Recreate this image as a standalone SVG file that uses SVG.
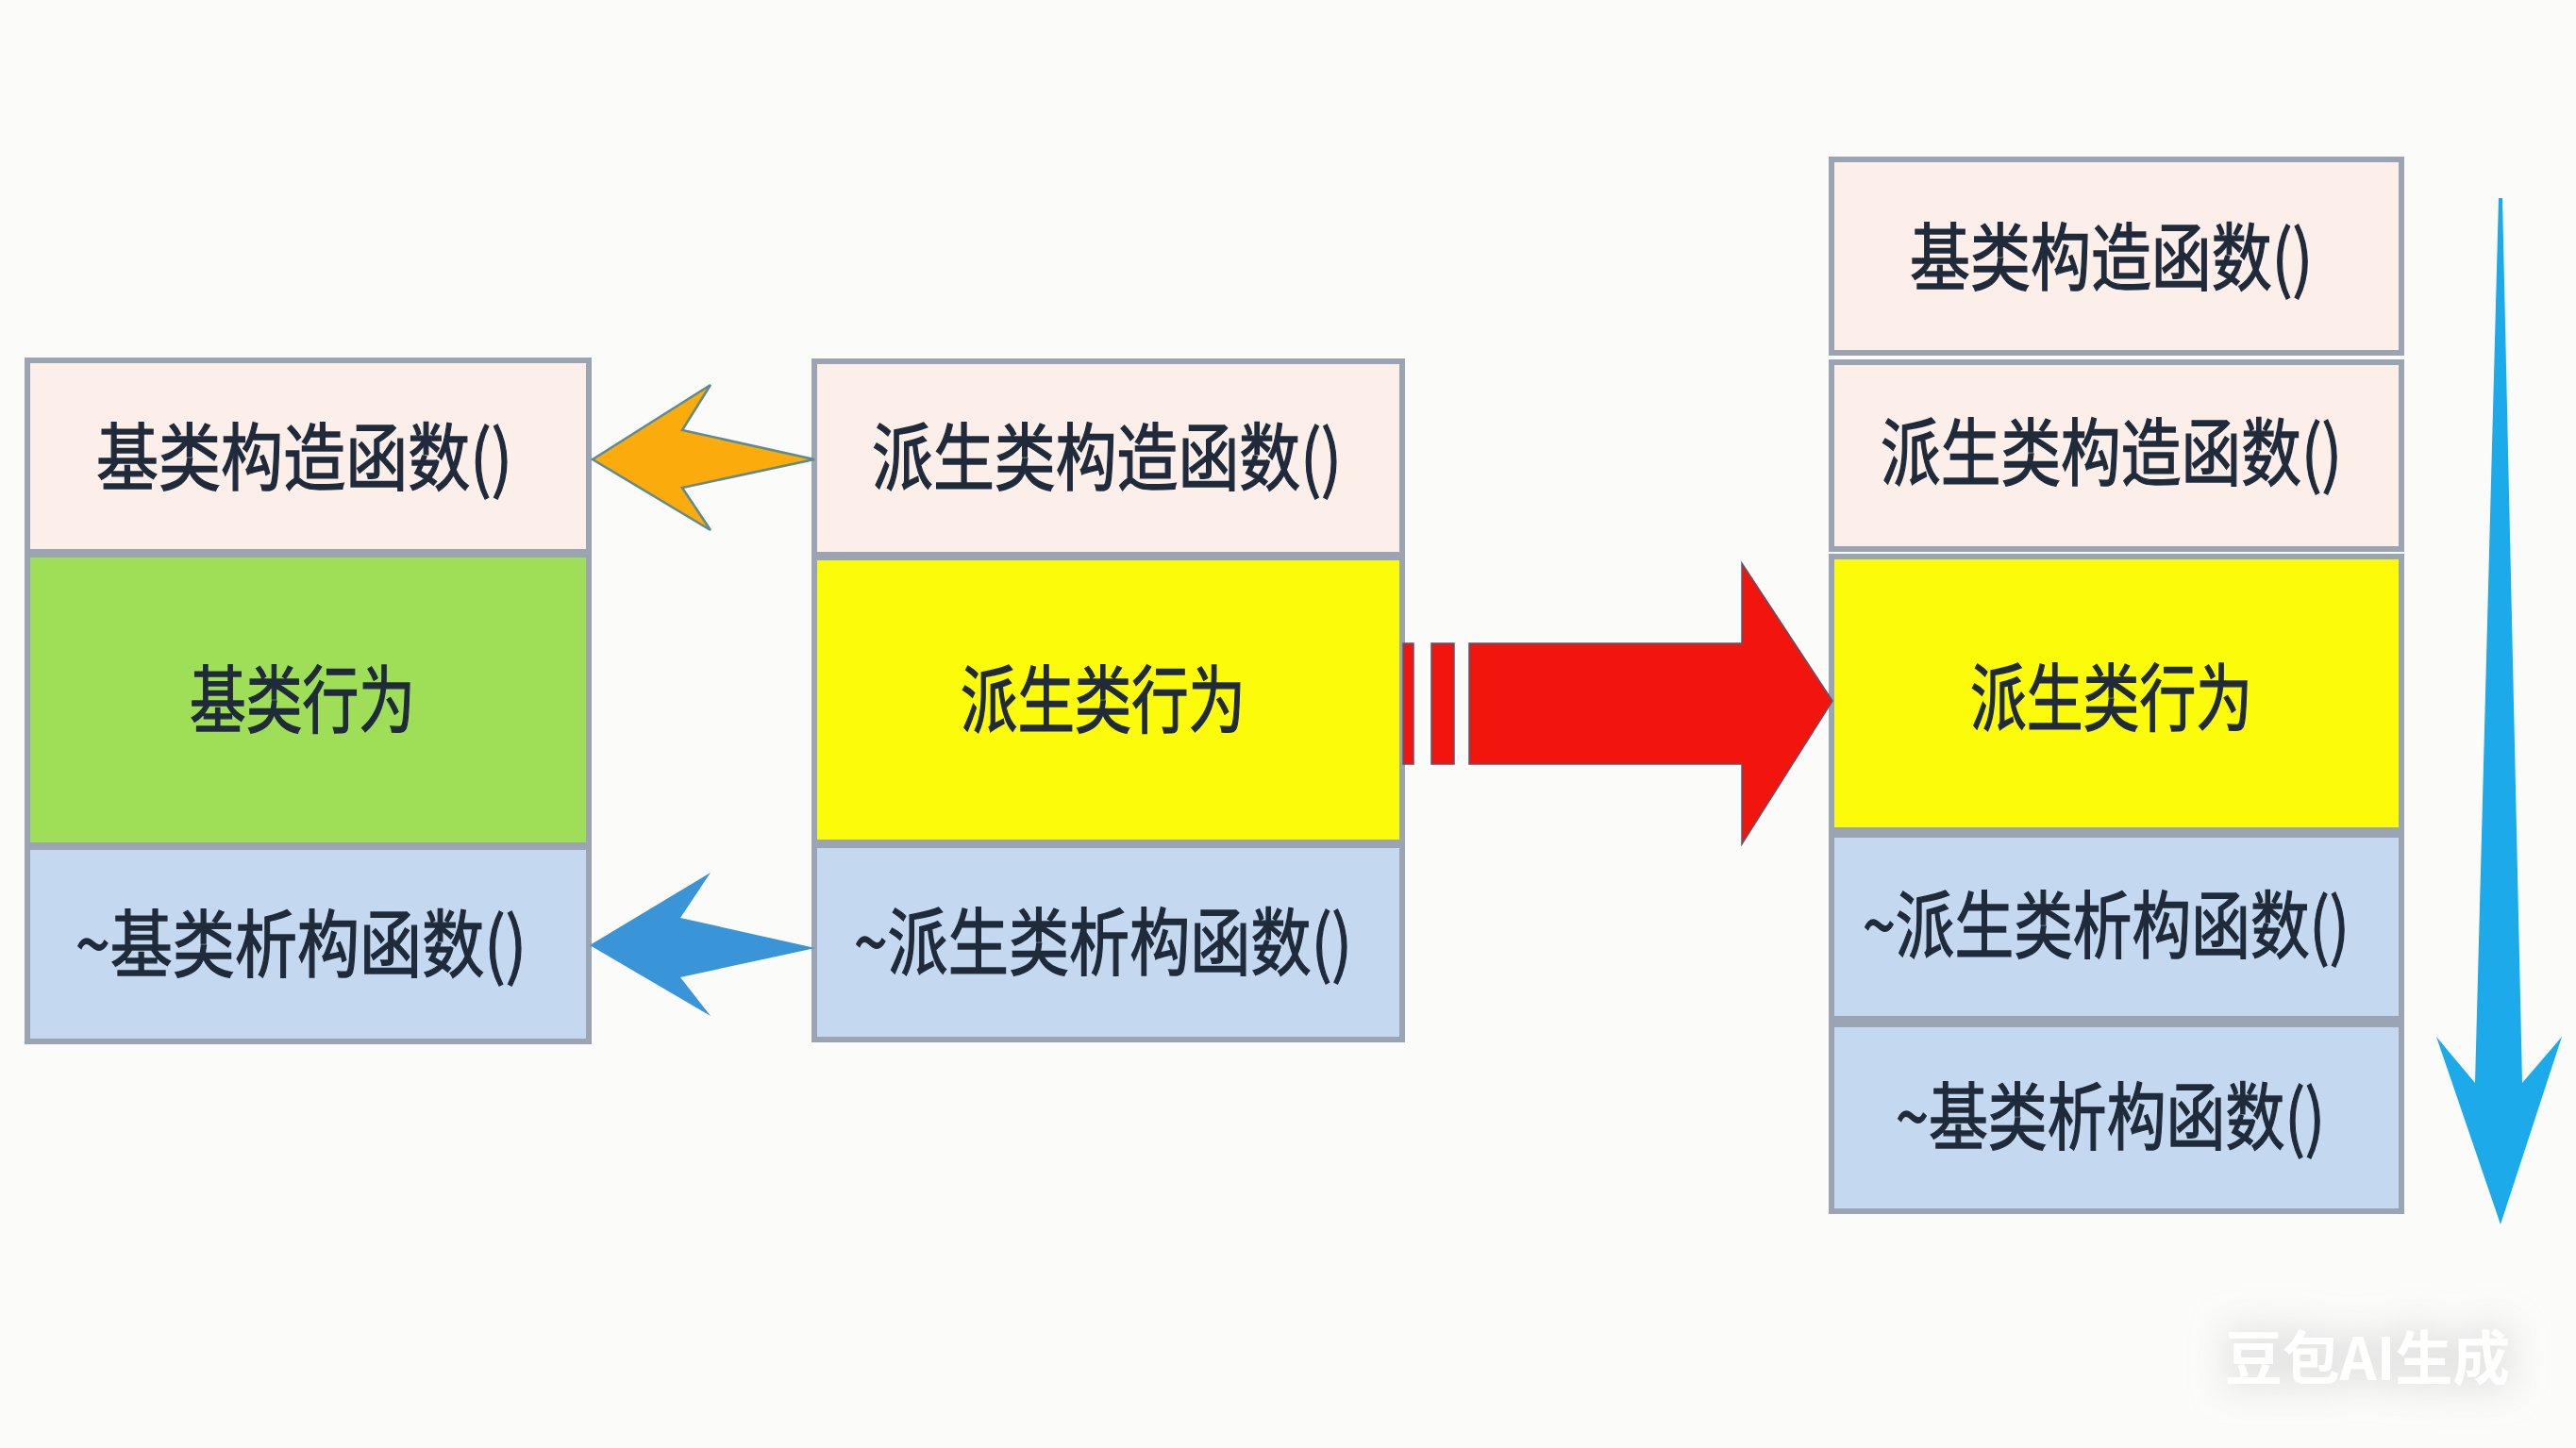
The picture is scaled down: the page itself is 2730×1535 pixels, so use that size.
<svg xmlns="http://www.w3.org/2000/svg" width="2730" height="1535" viewBox="0 0 2730 1535">
  <defs>
    <style>
      .box { stroke: #9ba4b3; stroke-width: 6; }
      .pink { fill: #fcefe9; }
      .green { fill: #9fdf58; }
      .yellow { fill: #fbfb0a; }
      .blue { fill: #c4d9ef; }
      .lbl { font-family: "Noto Sans CJK SC", "Noto Sans", "Liberation Sans", sans-serif; font-size: 78px; fill: #1f2a3a; stroke: #1f2a3a; stroke-width: 1.4; }
      .wm { font-family: "Noto Sans CJK SC", "Noto Sans", "Liberation Sans", sans-serif; font-size: 62px; font-weight: bold; }
    </style>
    <filter id="glow" x="-20%" y="-60%" width="140%" height="220%">
      <feMorphology in="SourceAlpha" operator="dilate" radius="6" result="d"/>
      <feGaussianBlur in="d" stdDeviation="18" result="b"/>
      <feColorMatrix in="b" type="matrix" values="0 0 0 0 0.5  0 0 0 0 0.5  0 0 0 0 0.5  0 0 0 0.35 0" result="s"/>
      <feMerge><feMergeNode in="s"/><feMergeNode in="SourceGraphic"/></feMerge>
    </filter>
  </defs>

  <rect x="0" y="0" width="2730" height="1535" fill="#fbfbf9"/>

  <!-- Left column: base class -->
  <g id="left-base-ctor">
    <rect class="box pink" x="29" y="382" width="595" height="203"/>
    <text class="lbl" x="102" y="514" textLength="441" lengthAdjust="spacingAndGlyphs">基类构造函数()</text>
  </g>
  <g id="left-base-behavior">
    <rect class="box green" x="29" y="588" width="595" height="308"/>
    <text class="lbl" x="201" y="771" textLength="239" lengthAdjust="spacingAndGlyphs">基类行为</text>
  </g>
  <g id="left-base-dtor">
    <rect class="box blue" x="29" y="898" width="595" height="206"/>
    <text class="lbl" x="80" y="1030" textLength="478" lengthAdjust="spacingAndGlyphs">~基类析构函数()</text>
  </g>

  <!-- Middle column: derived class -->
  <g id="mid-derived-ctor">
    <rect class="box pink" x="863" y="383" width="623" height="205"/>
    <text class="lbl" x="924" y="514" textLength="498" lengthAdjust="spacingAndGlyphs">派生类构造函数()</text>
  </g>
  <g id="mid-derived-behavior">
    <rect class="box yellow" x="863" y="591" width="623" height="302"/>
    <text class="lbl" x="1018" y="771" textLength="302" lengthAdjust="spacingAndGlyphs">派生类行为</text>
  </g>
  <g id="mid-derived-dtor">
    <rect class="box blue" x="863" y="896" width="623" height="206"/>
    <text class="lbl" x="905" y="1028" textLength="528" lengthAdjust="spacingAndGlyphs">~派生类析构函数()</text>
  </g>

  <!-- Right column: execution order -->
  <g id="right-base-ctor">
    <rect class="box pink" x="1941" y="169" width="604" height="205"/>
    <text class="lbl" x="2024" y="302" textLength="427" lengthAdjust="spacingAndGlyphs">基类构造函数()</text>
  </g>
  <g id="right-derived-ctor">
    <rect class="box pink" x="1941" y="384" width="604" height="198"/>
    <text class="lbl" x="1993" y="509" textLength="489" lengthAdjust="spacingAndGlyphs">派生类构造函数()</text>
  </g>
  <g id="right-derived-behavior">
    <rect class="box yellow" x="1941" y="590" width="604" height="290"/>
    <text class="lbl" x="2088" y="769" textLength="299" lengthAdjust="spacingAndGlyphs">派生类行为</text>
  </g>
  <g id="right-derived-dtor">
    <rect class="box blue" x="1941" y="885" width="604" height="195"/>
    <text class="lbl" x="1974" y="1010" textLength="516" lengthAdjust="spacingAndGlyphs">~派生类析构函数()</text>
  </g>
  <g id="right-base-dtor">
    <rect class="box blue" x="1941" y="1086" width="604" height="198"/>
    <text class="lbl" x="2009" y="1213" textLength="455" lengthAdjust="spacingAndGlyphs">~基类析构函数()</text>
  </g>

  <!-- Connectors -->
  <g id="connectors">
    <polygon points="628,487 753,408 723,456 863,487 723,517 753,562" fill="#fbab0c" stroke="#5f8b8e" stroke-width="2.5" stroke-linejoin="miter"/>
    <polygon points="625,1002 753,925 721,973 864,1005 721,1036 753,1077" fill="#3a94d8"/>
    <g fill="#f2150d" stroke="#5b5670" stroke-width="1.5">
      <rect x="1487" y="682" width="11" height="128"/>
      <rect x="1517" y="682" width="24" height="128"/>
      <polygon points="1557,682 1846,682 1846,597 1942,743 1846,895 1846,810 1557,810"/>
    </g>
    <polygon points="2648,210 2652,210 2673,1148 2715,1099 2650,1298 2582,1099 2623,1148" fill="#1caaea"/>
  </g>

  <text class="wm" x="2358" y="1463" textLength="302" lengthAdjust="spacingAndGlyphs" fill="#ffffff" filter="url(#glow)">豆包AI生成</text>
</svg>
